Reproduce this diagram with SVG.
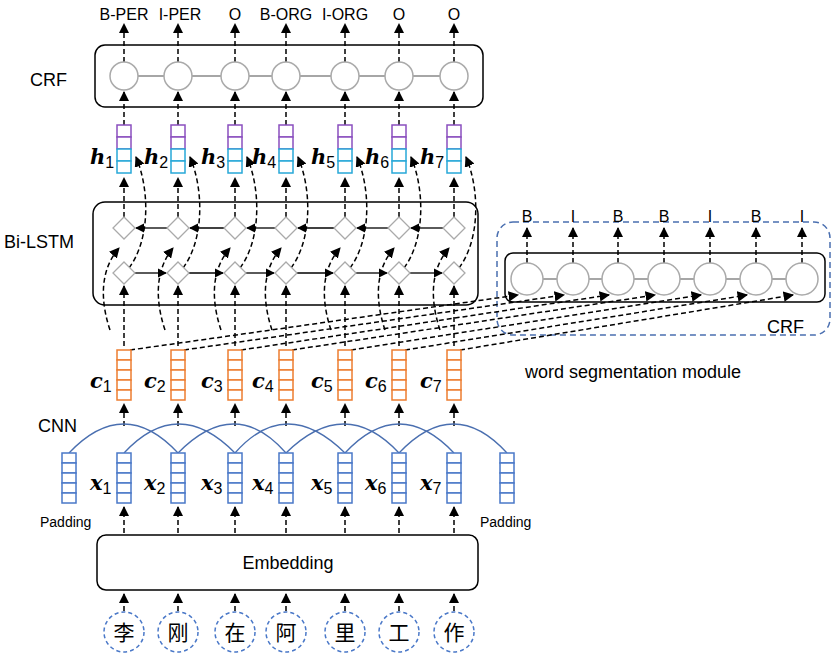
<svg xmlns="http://www.w3.org/2000/svg" width="834" height="661" viewBox="0 0 834 661">
<defs>
<marker id="a" viewBox="0 0 10 10" refX="9" refY="5" markerWidth="7" markerHeight="7" orient="auto-start-reverse"><path d="M0,0L10,5L0,10z" fill="#000"/></marker>
<style>
.t{font-family:"Liberation Sans","Open Sans",sans-serif;font-size:18px;fill:#000}
.s{font-family:"Liberation Sans",sans-serif;font-size:14px;fill:#000}
.m{font-family:"DejaVu Serif","Liberation Serif",serif;font-weight:bold;font-style:italic;font-size:21px}
.m tspan{font-style:normal;font-weight:normal;font-size:16px;font-family:"Liberation Sans",sans-serif}
.box{fill:#fff;stroke:#000;stroke-width:1.5}
.cir{fill:#fff;stroke:#aaa;stroke-width:1.5}
.dia{fill:#fff;stroke:#aaa;stroke-width:1.3}
.d{fill:none;stroke:#000;stroke-width:1.5;stroke-dasharray:5 3}
.sl{fill:none;stroke:#000;stroke-width:1.3}
.g{stroke:#888;stroke-width:1.3}
.arc{fill:none;stroke:#4a6fb0;stroke-width:1.3}
.xb{fill:#fff;stroke:#4a78c8;stroke-width:1.5}
.cb{fill:#fff;stroke:#ed7d31;stroke-width:1.5}
.pb{fill:#fff;stroke:#8a4fbf;stroke-width:1.5}
.hb{fill:#fff;stroke:#27a8d8;stroke-width:1.5}
.ch{font-family:"Noto Sans CJK SC",sans-serif;font-size:21px;fill:#000}
</style>
</defs>
<g id="frames">
<rect class="box" x="95" y="45" width="388" height="62" rx="10"/>
<rect class="box" x="93" y="202" width="385" height="103" rx="12"/>
<rect class="box" x="97" y="535" width="381" height="55" rx="9"/>
<rect x="497" y="222" width="333" height="113" rx="16" fill="none" stroke="#4a6fb0" stroke-width="1.5" stroke-dasharray="6 4"/>
<rect class="box" x="505" y="253" width="320" height="49" rx="8"/>
<text class="t" x="30" y="86">CRF</text>
<text class="t" x="4" y="248">Bi-LSTM</text>
<text class="t" x="38" y="432">CNN</text>
<text class="t" x="370" y="346" text-anchor="start" dx="0"> </text>
<text class="t" x="767" y="333">CRF</text>
<text class="t" x="525" y="378">word segmentation module</text>
<text class="s" x="40" y="527">Padding</text>
<text class="s" x="480" y="527">Padding</text>
<text class="t" x="288" y="569" text-anchor="middle">Embedding</text>
</g>
<g id="connectors">
<!-- CRF top chain -->
<line class="g" x1="124" y1="76" x2="454" y2="76"/>
<line class="g" x1="527" y1="279" x2="802" y2="279"/>
<!-- output arrows -->
<g class="d" marker-end="url(#a)">
<path d="M124,62V24"/><path d="M178,62V24"/><path d="M235,62V24"/><path d="M286,62V24"/><path d="M345,62V24"/><path d="M399,62V24"/><path d="M454,62V24"/>
<path d="M124,125V92"/><path d="M178,125V92"/><path d="M235,125V92"/><path d="M286,125V92"/><path d="M345,125V92"/><path d="M399,125V92"/><path d="M454,125V92"/>
<path d="M527,263V228"/><path d="M573,263V228"/><path d="M618,263V228"/><path d="M664,263V228"/><path d="M710,263V228"/><path d="M756,263V228"/><path d="M802,263V228"/>
<!-- top diamond to h -->
<path d="M124,217V178"/><path d="M178,217V178"/><path d="M235,217V178"/><path d="M286,217V178"/><path d="M345,217V178"/><path d="M399,217V178"/><path d="M454,217V178"/>
<!-- c to bottom diamond -->
<path d="M124,346V286"/><path d="M178,346V286"/><path d="M235,346V286"/><path d="M286,346V286"/><path d="M345,346V286"/><path d="M399,346V286"/><path d="M454,346V286"/>
<!-- x to c -->
<path d="M124,426V404"/><path d="M178,426V404"/><path d="M235,426V404"/><path d="M286,426V404"/><path d="M345,426V404"/><path d="M399,426V404"/><path d="M454,426V404"/>
<!-- embedding to x -->
<path d="M124,533V507"/><path d="M178,533V507"/><path d="M235,533V507"/><path d="M286,533V507"/><path d="M345,533V507"/><path d="M399,533V507"/><path d="M454,533V507"/>
<!-- chars to embedding -->
<path d="M124,611V594"/><path d="M178,611V594"/><path d="M235,611V594"/><path d="M286,611V594"/><path d="M345,611V594"/><path d="M399,611V594"/><path d="M454,611V594"/>
<!-- c to top diamond (curves) -->
<path d="M110,330C100,300 100,270 119,248"/><path d="M165,330C155,300 155,270 173,248"/><path d="M221,330C211,300 211,270 230,248"/><path d="M272,330C262,300 262,270 281,248"/><path d="M331,330C321,300 321,270 340,248"/><path d="M385,330C375,300 375,270 394,248"/><path d="M440,330C430,300 430,270 449,248"/>
<!-- bottom diamond to h (curves) -->
<path d="M129,268C150,240 150,190 136,157"/><path d="M183,268C204,240 204,190 190,157"/><path d="M240,268C261,240 261,190 247,157"/><path d="M291,268C312,240 312,190 298,157"/><path d="M350,268C371,240 371,190 357,157"/><path d="M404,268C425,240 425,190 411,157"/><path d="M459,268C480,240 480,190 466,157"/>
<!-- c to segmentation CRF -->
<path d="M130,350L518,295"/><path d="M184,350L564,295"/><path d="M241,350L609,295"/><path d="M292,350L655,295"/><path d="M351,350L701,295"/><path d="M405,350L747,295"/><path d="M460,350L793,295"/>
</g>
<!-- LSTM horizontal -->
<g class="sl" marker-end="url(#a)">
<path d="M135,273H166"/><path d="M189,273H223"/><path d="M246,273H274"/><path d="M297,273H333"/><path d="M356,273H387"/><path d="M410,273H442"/>
<path d="M443,228H411"/><path d="M388,228H357"/><path d="M334,228H298"/><path d="M275,228H247"/><path d="M224,228H190"/><path d="M167,228H136"/>
</g>
<!-- CNN arcs -->
<g class="arc">
<path d="M69,453Q124,395 178,453"/><path d="M124,453Q178,395 235,453"/><path d="M178,453Q235,395 286,453"/><path d="M235,453Q286,395 345,453"/><path d="M286,453Q345,395 399,453"/><path d="M345,453Q399,395 454,453"/><path d="M399,453Q454,395 507,453"/>
</g>
</g>
<g id="crf-nodes">
<circle class="cir" cx="124" cy="76" r="14"/><circle class="cir" cx="178" cy="76" r="14"/><circle class="cir" cx="235" cy="76" r="14"/><circle class="cir" cx="286" cy="76" r="14"/><circle class="cir" cx="345" cy="76" r="14"/><circle class="cir" cx="399" cy="76" r="14"/><circle class="cir" cx="454" cy="76" r="14"/>
<g class="t" text-anchor="middle" font-size="16">
<text x="124" y="20" style="font-size:16px">B-PER</text><text x="180" y="20" style="font-size:16px">I-PER</text><text x="235" y="20" style="font-size:16px">O</text><text x="286" y="20" style="font-size:16px">B-ORG</text><text x="345" y="20" style="font-size:16px">I-ORG</text><text x="399" y="20" style="font-size:16px">O</text><text x="454" y="20" style="font-size:16px">O</text>
</g>
</g>
<g id="seg-nodes">
<circle class="cir" cx="527" cy="279" r="16"/><circle class="cir" cx="573" cy="279" r="16"/><circle class="cir" cx="618" cy="279" r="16"/><circle class="cir" cx="664" cy="279" r="16"/><circle class="cir" cx="710" cy="279" r="16"/><circle class="cir" cx="756" cy="279" r="16"/><circle class="cir" cx="802" cy="279" r="16"/>
<g text-anchor="middle">
<text class="t" x="527" y="222" style="font-size:16px">B</text><text class="t" x="573" y="222" style="font-size:16px">I</text><text class="t" x="618" y="222" style="font-size:16px">B</text><text class="t" x="664" y="222" style="font-size:16px">B</text><text class="t" x="710" y="222" style="font-size:16px">I</text><text class="t" x="756" y="222" style="font-size:16px">B</text><text class="t" x="802" y="222" style="font-size:16px">I</text>
</g>
</g>
<g id="lstm-nodes">
<g id="d1"><path class="dia" d="M124,217l11,11l-11,11l-11,-11z"/><path class="dia" d="M124,262l11,11l-11,11l-11,-11z"/></g>
<g id="d2"><path class="dia" d="M178,217l11,11l-11,11l-11,-11z"/><path class="dia" d="M178,262l11,11l-11,11l-11,-11z"/></g>
<g id="d3"><path class="dia" d="M235,217l11,11l-11,11l-11,-11z"/><path class="dia" d="M235,262l11,11l-11,11l-11,-11z"/></g>
<g id="d4"><path class="dia" d="M286,217l11,11l-11,11l-11,-11z"/><path class="dia" d="M286,262l11,11l-11,11l-11,-11z"/></g>
<g id="d5"><path class="dia" d="M345,217l11,11l-11,11l-11,-11z"/><path class="dia" d="M345,262l11,11l-11,11l-11,-11z"/></g>
<g id="d6"><path class="dia" d="M399,217l11,11l-11,11l-11,-11z"/><path class="dia" d="M399,262l11,11l-11,11l-11,-11z"/></g>
<g id="d7"><path class="dia" d="M454,217l11,11l-11,11l-11,-11z"/><path class="dia" d="M454,262l11,11l-11,11l-11,-11z"/></g>
</g>
<g id="h-vectors">
<g id="hv"><rect class="pb" x="117" y="125" width="14" height="12"/><rect class="pb" x="117" y="137" width="14" height="12"/><rect class="hb" x="117" y="149" width="14" height="12"/><rect class="hb" x="117" y="161" width="14" height="12"/></g>
<use href="#hv" x="54"/><use href="#hv" x="111"/><use href="#hv" x="162"/><use href="#hv" x="221"/><use href="#hv" x="275"/><use href="#hv" x="330"/>
<text class="m" x="90" y="164">h<tspan dy="4">1</tspan></text>
<text class="m" x="144" y="164">h<tspan dy="4">2</tspan></text>
<text class="m" x="201" y="164">h<tspan dy="4">3</tspan></text>
<text class="m" x="252" y="164">h<tspan dy="4">4</tspan></text>
<text class="m" x="311" y="164">h<tspan dy="4">5</tspan></text>
<text class="m" x="365" y="164">h<tspan dy="4">6</tspan></text>
<text class="m" x="420" y="164">h<tspan dy="4">7</tspan></text>
</g>
<g id="c-vectors">
<g id="cv"><rect class="cb" x="117" y="350" width="14" height="10"/><rect class="cb" x="117" y="360" width="14" height="10"/><rect class="cb" x="117" y="370" width="14" height="10"/><rect class="cb" x="117" y="380" width="14" height="10"/><rect class="cb" x="117" y="390" width="14" height="10"/></g>
<use href="#cv" x="54"/><use href="#cv" x="111"/><use href="#cv" x="162"/><use href="#cv" x="221"/><use href="#cv" x="275"/><use href="#cv" x="330"/>
<text class="m" x="90" y="388">c<tspan dy="4">1</tspan></text>
<text class="m" x="144" y="388">c<tspan dy="4">2</tspan></text>
<text class="m" x="201" y="388">c<tspan dy="4">3</tspan></text>
<text class="m" x="252" y="388">c<tspan dy="4">4</tspan></text>
<text class="m" x="311" y="388">c<tspan dy="4">5</tspan></text>
<text class="m" x="365" y="388">c<tspan dy="4">6</tspan></text>
<text class="m" x="420" y="388">c<tspan dy="4">7</tspan></text>
</g>
<g id="x-vectors">
<g id="xv"><rect class="xb" x="117" y="453" width="14" height="10"/><rect class="xb" x="117" y="463" width="14" height="10"/><rect class="xb" x="117" y="473" width="14" height="10"/><rect class="xb" x="117" y="483" width="14" height="10"/><rect class="xb" x="117" y="493" width="14" height="10"/></g>
<use href="#xv" x="-55"/><use href="#xv" x="54"/><use href="#xv" x="111"/><use href="#xv" x="162"/><use href="#xv" x="221"/><use href="#xv" x="275"/><use href="#xv" x="330"/><use href="#xv" x="383"/>
<text class="m" x="90" y="490">x<tspan dy="4">1</tspan></text>
<text class="m" x="144" y="490">x<tspan dy="4">2</tspan></text>
<text class="m" x="201" y="490">x<tspan dy="4">3</tspan></text>
<text class="m" x="252" y="490">x<tspan dy="4">4</tspan></text>
<text class="m" x="311" y="490">x<tspan dy="4">5</tspan></text>
<text class="m" x="365" y="490">x<tspan dy="4">6</tspan></text>
<text class="m" x="420" y="490">x<tspan dy="4">7</tspan></text>
</g>
<g id="chars">
<g fill="#fff" stroke="#4a78c8" stroke-width="1.5" stroke-dasharray="4 3">
<circle cx="124" cy="632" r="20"/><circle cx="178" cy="632" r="20"/><circle cx="235" cy="632" r="20"/><circle cx="286" cy="632" r="20"/><circle cx="345" cy="632" r="20"/><circle cx="399" cy="632" r="20"/><circle cx="454" cy="632" r="20"/>
</g>
<g text-anchor="middle">
<text class="ch" x="124" y="640">李</text><text class="ch" x="178" y="640">刚</text><text class="ch" x="235" y="640">在</text><text class="ch" x="286" y="640">阿</text><text class="ch" x="345" y="640">里</text><text class="ch" x="399" y="640">工</text><text class="ch" x="454" y="640">作</text>
</g>
</g>
</svg>
